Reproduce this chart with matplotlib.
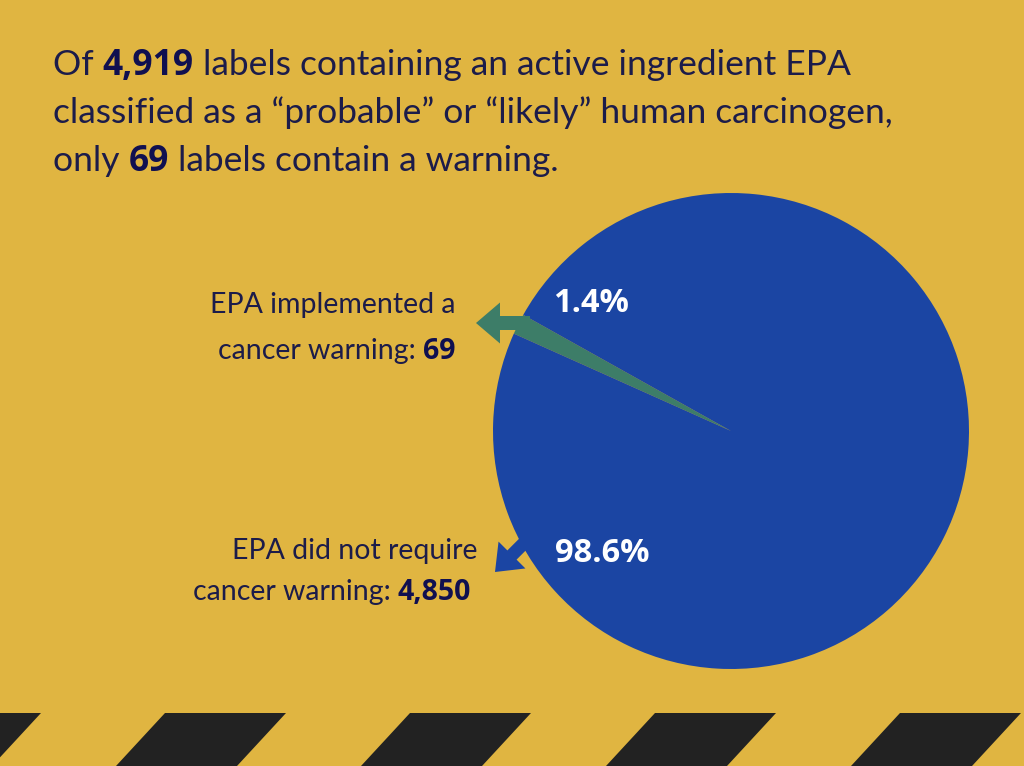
import matplotlib.pyplot as plt
from matplotlib.patches import Polygon, FancyArrow

# data
labels = ['EPA implemented a cancer warning', 'EPA did not require cancer warning']
counts = [69, 4850]
total = 4919
pct_labels = ['1.4%', '98.6%']

BG = '#E0B541'
NAVY = '#1C1C4A'
BOLDNAVY = '#101050'
BLUE = '#1B45A3'
GREEN = '#3D7D68'
FONT = 'Lato'
BOLDFONT = 'Open Sans'

W, H = 1024, 766
fig = plt.figure(figsize=(W / 100, H / 100), dpi=100, facecolor=BG)
ax = fig.add_axes([0, 0, 1, 1])
ax.set_facecolor(BG)
ax.set_xlim(0, W)
ax.set_ylim(0, H)
ax.axis('off')


def y(v):
    # image row -> data y
    return H - v


def style(b):
    if b:
        return dict(family=BOLDFONT, fontweight='bold', fontstyle='normal')
    return dict(family=FONT, fontweight='normal', fontstyle='normal')


def runs(x0, yy, parts, size, color=NAVY):
    # draw text pieces side by side, (text, bold) tuples
    r = fig.canvas.get_renderer()
    x = x0
    for s, b in parts:
        t = ax.text(x, yy, s, fontsize=size, color=BOLDNAVY if b else color,
                    va='baseline', ha='left', **style(b))
        bb = t.get_window_extent(renderer=r)
        x += bb.width


def runs_right(x1, yy, parts, size, color=NAVY):
    r = fig.canvas.get_renderer()
    widths = []
    for s, b in parts:
        t = ax.text(0, 0, s, fontsize=size, **style(b))
        widths.append(t.get_window_extent(renderer=r).width)
        t.remove()
    runs(x1 - sum(widths), yy, parts, size, color)


# title (baselines)
ts = 25.5
runs(53, y(75), [('Of ', False), (f'{total:,}', True),
                 (' labels containing an active ingredient EPA', False)], ts)
runs(53, y(123), [('classified as a \u201cprobable\u201d or \u201clikely\u201d human carcinogen,', False)], ts)
runs(53, y(171), [('only ', False), (str(counts[0]), True),
                  (' labels contain a warning.', False)], ts)

# pie
cx, cy, rad = 731, y(431), 238
ax.pie(counts, colors=[GREEN, BLUE], startangle=150.8, center=(cx, cy),
       radius=rad, frame=True, wedgeprops=dict(linewidth=0))
ax.set_xlim(0, W)
ax.set_ylim(0, H)
ax.set_aspect('auto')
ax.axis('off')

# arrows
ax.add_patch(FancyArrow(530, y(323), -54, 0, width=14, head_width=41,
                        head_length=24, length_includes_head=True,
                        color=GREEN, lw=0))
ax.add_patch(FancyArrow(532, y(535), -37, -37, width=13, head_width=38,
                        head_length=24, length_includes_head=True,
                        color=BLUE, lw=0))

# percent labels
ax.text(553, y(304), pct_labels[0], fontsize=23.5, color='white',
        va='center', ha='left', **style(True))
ax.text(555, y(553), pct_labels[1], fontsize=23.5, color='white',
        va='center', ha='left', **style(True))

# slice labels (baselines)
ls = 20.5
runs_right(456, y(313), [('EPA implemented a', False)], ls)
runs_right(456, y(359), [('cancer warning: ', False), (str(counts[0]), True)], ls)
runs_right(477, y(559), [('EPA did not require', False)], ls)
runs_right(471, y(600), [('cancer warning: ', False), (f'{counts[1]:,}', True)], ls)

# hazard stripes at bottom
for k in range(-1, 5):
    x0 = 165 + 245 * k
    ax.add_patch(Polygon([(x0, y(713)), (x0 + 121, y(713)),
                          (x0 + 121 - 49, 0), (x0 - 49, 0)],
                         closed=True, color='#222222', lw=0))

fig.savefig('out.png', dpi=100, facecolor=BG)
